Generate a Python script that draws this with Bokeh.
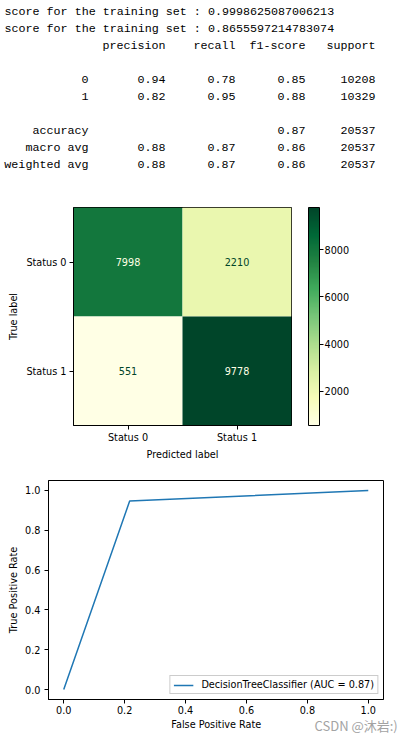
import numpy as np
from bokeh.plotting import figure
from bokeh.models import (ColumnDataSource, Range1d, FactorRange, LinearColorMapper, ColorBar,
                          FixedTicker, PrintfTickFormatter, Legend, LegendItem)
from bokeh.transform import transform
from bokeh.core.properties import value
from bokeh.embed import file_html
from bokeh.resources import INLINE

# ---------------- data ----------------
score_prefix = "score for the training set : "
scores = ["0.9998625087006213", "0.8655597214783074"]
report_headers = ["precision", "recall", "f1-score", "support"]
report_rows = ["0", "1", "accuracy", "macro avg", "weighted avg"]
precision = ["0.94", "0.82", "", "0.88", "0.88"]
recall = ["0.78", "0.95", "", "0.87", "0.87"]
f1_score = ["0.85", "0.88", "0.87", "0.86", "0.86"]
support = ["10208", "10329", "20537", "20537", "20537"]

classes = ["Status 0", "Status 1"]
cm_true = ["Status 0", "Status 0", "Status 1", "Status 1"]
cm_pred = ["Status 0", "Status 1", "Status 0", "Status 1"]
cm_counts = [7998, 2210, 551, 9778]
cbar_ticks = [2000, 4000, 6000, 8000]

fpr = [0.0, 0.2165, 1.0]
tpr = [0.0, 0.9467, 1.0]
roc_label = "DecisionTreeClassifier (AUC = 0.87)"
roc_xlabel = "False Positive Rate"
roc_ticks = [0.0, 0.2, 0.4, 0.6, 0.8, 1.0]
watermark = "CSDN @沐岩:)"

# ---------------- style / layout ----------------
W = 415
FONT = "DejaVu Sans"
FS = "9.7px"
MONO = "Liberation Mono"
CHAR = 7.0
LINE = 17.0
H1, H2, H3, H4 = 190, 275, 252, 24

ylgn9 = ["#ffffe5", "#f7fcb9", "#d9f0a3", "#addd8e", "#78c679",
         "#41ab5d", "#238443", "#006837", "#004529"]


def interp_palette(cols, n=256):
    rgb = np.array([[int(c[i:i + 2], 16) for i in (1, 3, 5)] for c in cols], float)
    t = np.linspace(0, 1, len(cols))
    tt = np.linspace(0, 1, n)
    out = np.stack([np.interp(tt, t, rgb[:, k]) for k in range(3)], axis=1)
    return ["#%02x%02x%02x" % tuple(int(round(v)) for v in row) for row in out]


palette = interp_palette(ylgn9)


def style_axes(p):
    for ax in p.axis:
        ax.axis_line_color = "black"
        ax.major_tick_line_color = "black"
        ax.major_tick_in = 0
        ax.major_tick_out = 4
        ax.minor_tick_line_color = None
        ax.major_label_text_font = FONT
        ax.major_label_text_font_size = FS
        ax.major_label_text_color = "black"
        ax.axis_label_text_font = FONT
        ax.axis_label_text_font_size = FS
        ax.axis_label_text_font_style = "normal"
        ax.axis_label_text_color = "black"
    p.outline_line_color = "black"
    p.outline_line_alpha = 1.0
    p.grid.visible = False


# ---------------- 1) text report ----------------
x0, y0 = 4.0, 11.0
p1 = figure(width=W, height=H1, x_range=Range1d(-x0 / CHAR, (W - x0) / CHAR),
            y_range=Range1d((H1 - y0) / LINE, -y0 / LINE),
            output_backend="svg", toolbar_location=None,
            x_axis_location=None, y_axis_location=None, min_border=0)
p1.outline_line_color = None
p1.grid.visible = False

score_src = ColumnDataSource(dict(x=[0, 0], y=[0, 1], t=[score_prefix + s for s in scores]))
p1.text("x", "y", "t", source=score_src, text_font=value(MONO), text_font_size="11.7px",
        text_align="left", text_baseline="middle", text_color="black")

col_edges = [23, 33, 43, 53]
hdr_src = ColumnDataSource(dict(x=col_edges, y=[2] * 4, t=report_headers))
p1.text("x", "y", "t", source=hdr_src, text_font=value(MONO), text_font_size="11.7px",
        text_align="right", text_baseline="middle", text_color="black")

row_lines = [4, 5, 7, 8, 9]
xs, ys, ts = [], [], []
for i, ln in enumerate(row_lines):
    cells = [report_rows[i], precision[i], recall[i], f1_score[i], support[i]]
    for e, c in zip([12] + col_edges, cells):
        if c:
            xs.append(e); ys.append(ln); ts.append(c)
tab_src = ColumnDataSource(dict(x=xs, y=ys, t=ts))
p1.text("x", "y", "t", source=tab_src, text_font=value(MONO), text_font_size="11.7px",
        text_align="right", text_baseline="middle", text_color="black")

# ---------------- 2) confusion matrix ----------------
lo, hi = min(cm_counts), max(cm_counts)
mapper = LinearColorMapper(palette=palette, low=lo, high=hi)
thresh = (lo + hi) / 2.0
txt_col = [ylgn9[0] if v > thresh else ylgn9[-1] for v in cm_counts]
cm_src = ColumnDataSource(dict(pred=cm_pred, true=cm_true, v=cm_counts,
                               lab=[str(v) for v in cm_counts], tc=txt_col))

p2 = figure(width=W, height=H2, x_range=FactorRange(*classes),
            y_range=FactorRange(*classes[::-1]),
            output_backend="svg", toolbar_location=None,
            min_border_left=73, min_border_right=124, min_border_top=17, min_border_bottom=40)
p2.rect("pred", "true", 1, 1, source=cm_src, fill_color=transform("v", mapper), line_color=None)
p2.text("pred", "true", "lab", source=cm_src, text_color="tc", text_font=value(FONT),
        text_font_size=FS, text_align="center", text_baseline="middle")
p2.xaxis.axis_label = "Predicted label"
p2.yaxis.axis_label = "True label"
style_axes(p2)
p2.xaxis.major_label_standoff = 2
p2.yaxis.major_label_standoff = 3
p2.xaxis.axis_label_standoff = 3
p2.yaxis.axis_label_standoff = 4

cbar = ColorBar(color_mapper=mapper, ticker=FixedTicker(ticks=cbar_ticks),
                formatter=PrintfTickFormatter(format="%d"),
                width=11, height=218, margin=0, padding=17, location="center_left",
                bar_line_color="black", major_tick_in=0, major_tick_out=4,
                major_tick_line_color="black", minor_tick_line_color=None,
                label_standoff=1, major_label_text_font=FONT,
                major_label_text_font_size=FS, major_label_text_color="black",
                background_fill_alpha=0, border_line_color=None)
p2.add_layout(cbar, "right")

# ---------------- 3) ROC curve ----------------
p3 = figure(width=W, height=H3, x_range=Range1d(-0.05, 1.05), y_range=Range1d(-0.05, 1.05),
            output_backend="svg", toolbar_location=None,
            min_border_left=48, min_border_right=32, min_border_top=15, min_border_bottom=18)
r = p3.line(fpr, tpr, line_color="#1f77b4", line_width=1.5)
p3.xaxis.ticker = FixedTicker(ticks=roc_ticks)
p3.yaxis.ticker = FixedTicker(ticks=roc_ticks)
p3.xaxis.formatter = PrintfTickFormatter(format="%.1f")
p3.yaxis.formatter = PrintfTickFormatter(format="%.1f")
p3.yaxis.axis_label = "True Positive Rate"
style_axes(p3)
p3.xaxis.major_label_standoff = 2
p3.yaxis.major_label_standoff = 4
p3.yaxis.axis_label_standoff = 3

legend = Legend(items=[LegendItem(label=roc_label, renderers=[r])], location="bottom_right",
                margin=5, padding=3, spacing=0, glyph_width=20, glyph_height=10,
                label_height=10, label_standoff=8, label_text_font=FONT,
                label_text_font_size=FS, label_text_color="black",
                border_line_color="#cccccc", border_line_alpha=1.0,
                background_fill_color="white", background_fill_alpha=0.8)
p3.add_layout(legend)

# ---------------- 4) x-axis title row of the ROC plot + watermark ----------------
p4 = figure(width=W, height=H4, x_range=Range1d(0, W), y_range=Range1d(H4, 0),
            output_backend="svg", toolbar_location=None,
            x_axis_location=None, y_axis_location=None, min_border=0)
p4.outline_line_color = None
p4.grid.visible = False
p4.text(x=[215.8], y=[7.3], text=[roc_xlabel], text_font=value(FONT), text_font_size=FS,
        text_align="center", text_baseline="middle", text_color="black")
p4.text(x=[314], y=[8], text=[watermark], text_font=value("Noto Sans CJK SC"),
        text_font_size="13px", text_align="left", text_baseline="middle", text_color="#a3a3a3")

open("out.html", "w").write(file_html([p1, p2, p3, p4], INLINE))
